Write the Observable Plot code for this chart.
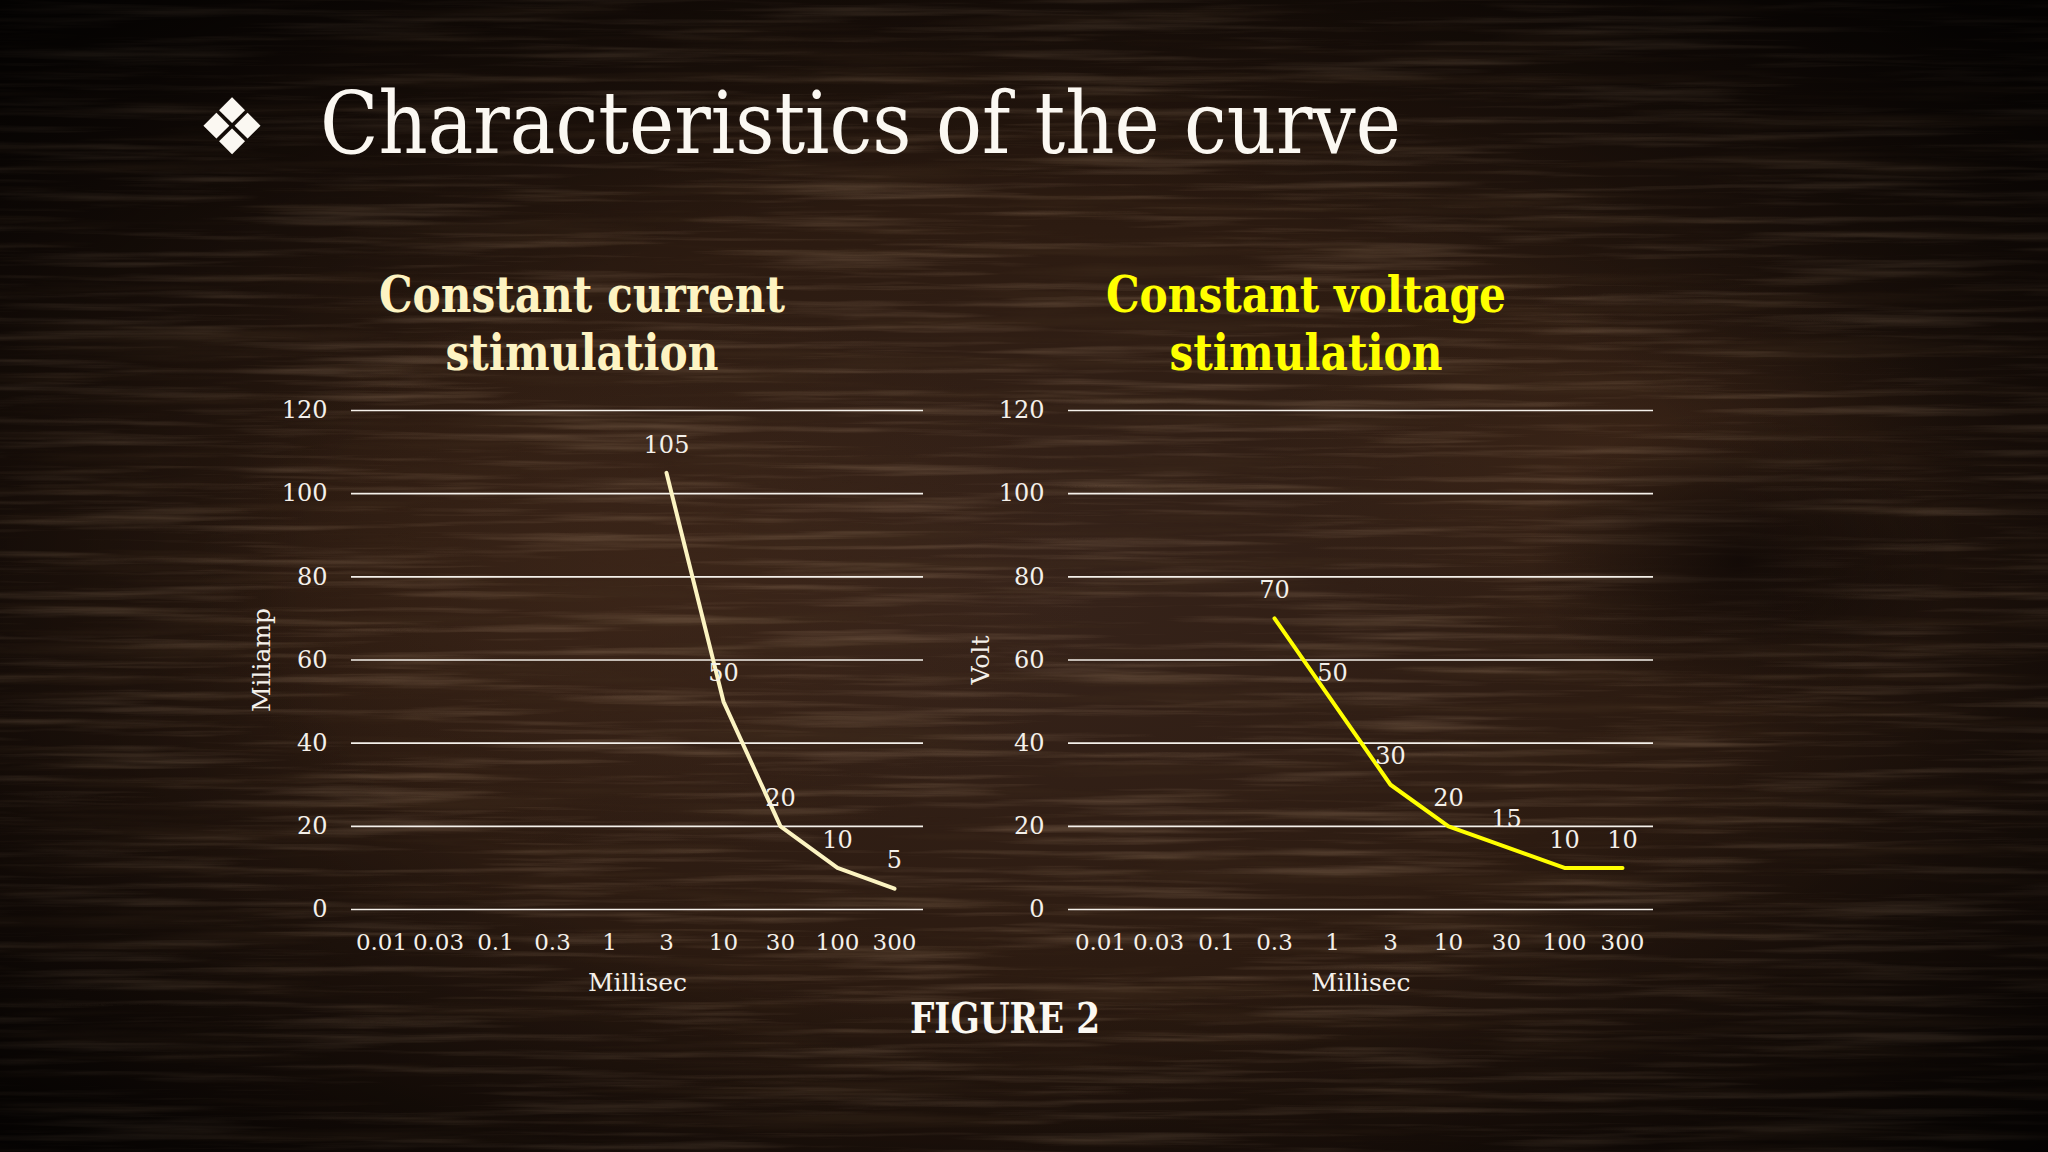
<!DOCTYPE html>
<html>
<head>
<meta charset="utf-8">
<script src="https://cdn.jsdelivr.net/npm/d3@7"></script>
<script src="https://cdn.jsdelivr.net/npm/@observablehq/plot@0.6"></script>
<style>
  html, body { margin: 0; padding: 0; background: #0a0604; }
  #stage { position: relative; width: 2048px; height: 1152px; overflow: hidden; }
  #stage > svg, #stage > div { position: absolute; }
</style>
</head>
<body>
<div id="stage">
  <svg id="bg" width="2048" height="1152" style="left:0;top:0">
    <defs>
      <radialGradient id="base" cx="0.5" cy="0.52" r="0.72">
        <stop offset="0" stop-color="#36231a"/>
        <stop offset="0.45" stop-color="#2c1b11"/>
        <stop offset="0.8" stop-color="#1a0f09"/>
        <stop offset="1" stop-color="#0b0604"/>
      </radialGradient>
      <radialGradient id="vig" cx="0.5" cy="0.52" r="0.7">
        <stop offset="0.5" stop-color="#000" stop-opacity="0"/>
        <stop offset="1" stop-color="#000" stop-opacity="0.72"/>
      </radialGradient>
      <radialGradient id="knot" cx="0.5" cy="0.5" r="0.5">
        <stop offset="0" stop-color="#070302" stop-opacity="0.7"/>
        <stop offset="1" stop-color="#070302" stop-opacity="0"/>
      </radialGradient>
      <radialGradient id="glow" cx="0.5" cy="0.5" r="0.5">
        <stop offset="0" stop-color="#462c1c" stop-opacity="0.5"/>
        <stop offset="1" stop-color="#462c1c" stop-opacity="0"/>
      </radialGradient>
      <filter id="light" x="0" y="0" width="1" height="1">
        <feTurbulence type="fractalNoise" baseFrequency="0.004 0.12" numOctaves="4" seed="3"/>
        <feColorMatrix type="matrix" values="0 0 0 0 0.36  0 0 0 0 0.23  0 0 0 0 0.14  2.6 0 0 0 -1.25"/>
      </filter>
      <filter id="darkg" x="0" y="0" width="1" height="1">
        <feTurbulence type="fractalNoise" baseFrequency="0.003 0.07" numOctaves="4" seed="17"/>
        <feColorMatrix type="matrix" values="0 0 0 0 0.05  0 0 0 0 0.025  0 0 0 0 0.012  -2.6 0 0 0 1.3"/>
      </filter>
    </defs>
    <rect width="2048" height="1152" fill="url(#base)"/>
    <ellipse cx="1620" cy="460" rx="360" ry="190" fill="url(#glow)"/>
    <ellipse cx="650" cy="580" rx="450" ry="280" fill="url(#glow)"/>
    <rect width="2048" height="1152" filter="url(#darkg)" opacity="0.55"/>
    <rect width="2048" height="1152" filter="url(#light)" opacity="0.3"/>
    <ellipse cx="1740" cy="560" rx="210" ry="150" fill="url(#knot)"/>
    <rect width="2048" height="1152" fill="url(#vig)"/>
  </svg>

  <svg id="texts" width="2048" height="1152" style="left:0;top:0"
       font-family="'DejaVu Serif', 'Liberation Serif', serif">
    <text x="232" y="154" text-anchor="middle" font-family="'DejaVu Sans', sans-serif"
          font-size="78" fill="#fbf8f2">❖</text>
    <text id="title" x="320" y="153" font-size="86" fill="#fbf8f2"
          textLength="1081" lengthAdjust="spacingAndGlyphs">Characteristics of the curve</text>
    <g font-weight="bold" font-size="50" text-anchor="middle">
      <text x="582" y="312" fill="#fdf3c2" textLength="406" lengthAdjust="spacingAndGlyphs">Constant current</text>
      <text x="582" y="370" fill="#fdf3c2" textLength="273" lengthAdjust="spacingAndGlyphs">stimulation</text>
      <text x="1306" y="312" fill="#ffff00" textLength="400" lengthAdjust="spacingAndGlyphs">Constant voltage</text>
      <text x="1306" y="370" fill="#ffff00" textLength="273" lengthAdjust="spacingAndGlyphs">stimulation</text>
      <text x="1005" y="1033" font-size="42" fill="#fbf8f2" textLength="190" lengthAdjust="spacingAndGlyphs">FIGURE 2</text>
    </g>
  </svg>

  <div id="leftChart" style="left:181px;top:380px"></div>
  <div id="rightChart" style="left:898px;top:380px"></div>
</div>

<script>
// ---- data ----
const msCats = ["0.01", "0.03", "0.1", "0.3", "1", "3", "10", "30", "100", "300"];
const yTicks = [0, 20, 40, 60, 80, 100, 120];

const currentX = ["3", "10", "30", "100", "300"];
const currentY = [105, 50, 20, 10, 5];

const voltageX = ["0.3", "1", "3", "10", "30", "100", "300"];
const voltageY = [70, 50, 30, 20, 15, 10, 10];

const xLabel = "Millisec";
const leftYLabel = "Miliamp";
const rightYLabel = "Volt";

// ---- chart ----
const ink = "#f4f0ea";

function chart({xs, ys, stroke, yLabel, gridWidth, labelDx}) {
  const data = xs.map((x, i) => ({x, y: ys[i]}));
  const mL = 170, mR = 30, mT = 30, mB = 110, ph = 499;
  return Plot.plot({
    width: mL + gridWidth + mR,
    height: mT + ph + mB,
    marginLeft: mL, marginRight: mR, marginTop: mT, marginBottom: mB,
    style: {
      background: "transparent",
      color: ink,
      fontFamily: "'DejaVu Serif', 'Liberation Serif', serif",
      fontSize: "24px",
      overflow: "visible"
    },
    x: {type: "point", domain: msCats, padding: 0.5},
    y: {domain: [0, 120]},
    marks: [
      Plot.ruleY(yTicks, {stroke: ink, strokeWidth: 1.6}),
      Plot.axisY({ticks: yTicks, tickSize: 0, tickPadding: 24, label: null, fontSize: 24}),
      Plot.axisX({tickSize: 0, tickPadding: 24, label: null, fontSize: 23}),
      Plot.text([yLabel], {frameAnchor: "left", rotate: -90, dx: labelDx, textAnchor: "middle",
                           lineAnchor: "middle", fontSize: 25, fill: ink}),
      Plot.text([xLabel], {frameAnchor: "bottom", dy: 73, textAnchor: "middle",
                           lineAnchor: "middle", fontSize: 25, fill: ink}),
      Plot.lineY(data, {x: "x", y: "y", stroke, strokeWidth: 4, strokeLinejoin: "round", strokeLinecap: "round"}),
      Plot.text(data, {x: "x", y: "y", text: d => String(d.y), dy: -28, fill: ink, fontSize: 24})
    ]
  });
}

document.getElementById("leftChart").append(
  chart({xs: currentX, ys: currentY, stroke: "#fcf4c2", yLabel: leftYLabel, gridWidth: 572, labelDx: -90})
);
document.getElementById("rightChart").append(
  chart({xs: voltageX, ys: voltageY, stroke: "#ffff00", yLabel: rightYLabel, gridWidth: 585, labelDx: -88})
);
</script>
</body>
</html>
